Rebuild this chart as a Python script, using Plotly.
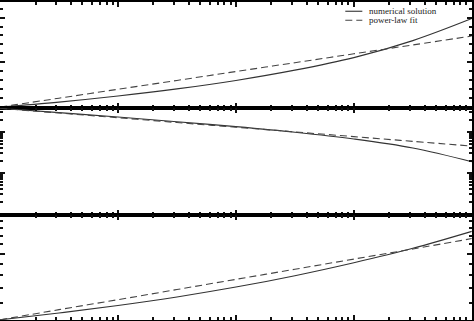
import plotly.graph_objects as go

# ---- data (x on log scale, sample points) ----
x_vals = [1, 3.162, 10, 31.62, 100, 316.2, 1000, 3162, 10000]

top_numerical = [0.0, 0.11, 0.245, 0.405, 0.595, 0.825, 1.105, 1.485, 1.978]
top_fit = [0.0, 0.198, 0.397, 0.595, 0.794, 0.992, 1.19, 1.389, 1.587]

mid_numerical = [3.75, 2.94, 2.30, 1.77, 1.34, 0.982, 0.671, 0.405, 0.188]
mid_fit = [3.75, 2.88, 2.21, 1.69, 1.30, 0.998, 0.766, 0.588, 0.451]

bot_numerical = [0.501, 0.538, 0.582, 0.636, 0.705, 0.794, 0.909, 1.056, 1.26]
bot_fit = [0.501, 0.557, 0.618, 0.687, 0.764, 0.849, 0.944, 1.049, 1.169]

legend_labels = ["numerical solution", "power-law fit"]

# tick positions
x_major_ticks = [1, 10, 100, 1000, 10000]
x_minor_ticks = [d * m for m in [1, 10, 100, 1000] for d in range(2, 10)]
top_major_ticks = [0, 1, 2]
top_minor_ticks = [i / 5 for i in range(0, 12)]
mid_major_ticks = [0.01, 0.1, 1]
mid_minor_ticks = [d * m for m in [0.01, 0.1, 1] for d in range(2, 10)]
bot_major_ticks = [1]
bot_minor_ticks = [0.5, 0.6, 0.7, 0.8, 0.9, 1.1, 1.2, 1.3, 1.4, 1.5]

SOLID = dict(color="#333333", width=1.1)
DASH = dict(color="#444444", width=1.1, dash="7px,4px")

fig = go.Figure()
panels = [
    ("x", "y", top_numerical, top_fit),
    ("x2", "y2", mid_numerical, mid_fit),
    ("x3", "y3", bot_numerical, bot_fit),
]
for xa, ya, num, fit in panels:
    fig.add_trace(go.Scatter(x=x_vals, y=num, mode="lines", line=SOLID,
                             line_shape="spline", xaxis=xa, yaxis=ya,
                             name=legend_labels[0], showlegend=False))
    fig.add_trace(go.Scatter(x=x_vals, y=fit, mode="lines", line=DASH,
                             line_shape="spline", xaxis=xa, yaxis=ya,
                             name=legend_labels[1], showlegend=False))

base = dict(showline=True, linewidth=2, linecolor="black", mirror="allticks",
            ticks="inside", tickwidth=1.5, tickcolor="#111111",
            showticklabels=False, showgrid=False, zeroline=False,
            tickmode="array")
MAJ = 5
MIN = 3

xdom = [0, 0.9975]
xrange_ = [0, 4]
ydoms = [[0.6667, 1.0], [0.3333, 0.6667], [0.0031, 0.3333]]
yranges = [[-0.029, 2.349], [-2.017, 0.574], [-0.30103, 0.176091]]
ytypes = ["linear", "log", "log"]
ymaj = [top_major_ticks, mid_major_ticks, bot_major_ticks]
ymin = [top_minor_ticks, mid_minor_ticks, bot_minor_ticks]

layout = dict(width=474, height=321, margin=dict(l=0, r=0, t=0, b=0),
              paper_bgcolor="white", plot_bgcolor="white", showlegend=False)

for i in range(3):
    n = i + 1
    xs = "" if n == 1 else str(n)
    # major-tick axes
    layout["xaxis" + xs] = dict(base, type="log", range=xrange_, domain=xdom,
                                anchor="y" + xs, tickvals=x_major_ticks,
                                ticklen=MAJ)
    layout["yaxis" + xs] = dict(base, type=ytypes[i], range=yranges[i],
                                domain=ydoms[i], anchor="x" + xs,
                                tickvals=ymaj[i], ticklen=MAJ)
    # overlaid axes carrying the minor ticks
    m = n + 3
    layout["xaxis" + str(m)] = dict(base, type="log", range=xrange_,
                                    domain=xdom, anchor="y" + xs,
                                    overlaying="x" + xs,
                                    tickvals=x_minor_ticks, ticklen=MIN)
    layout["yaxis" + str(m)] = dict(base, type=ytypes[i], range=yranges[i],
                                    domain=ydoms[i], anchor="x" + xs,
                                    overlaying="y" + xs,
                                    tickvals=ymin[i], ticklen=MIN)

fig.update_layout(**layout)

# invisible traces so the overlay axes are drawn
for i in range(3):
    m = i + 4
    fig.add_trace(go.Scatter(x=[x_vals[0]], y=[[top_fit, mid_fit, bot_fit][i][0]],
                             mode="lines", xaxis="x" + str(m),
                             yaxis="y" + str(m), line=dict(width=0),
                             hoverinfo="skip", showlegend=False))

# ---- legend drawn manually (compact, like the reference) ----
leg_y = [0.971, 0.943]
styles = [SOLID, DASH]
for label, yy, st in zip(legend_labels, leg_y, styles):
    fig.add_shape(type="line", xref="paper", yref="paper",
                  x0=0.730, x1=0.766, y0=yy, y1=yy, line=st)
    fig.add_annotation(xref="paper", yref="paper", x=0.776, y=yy,
                       text=label, showarrow=False, xanchor="left",
                       yanchor="middle",
                       font=dict(family="Liberation Serif", size=9,
                                 color="#222222"))

fig.write_html("out.html")
